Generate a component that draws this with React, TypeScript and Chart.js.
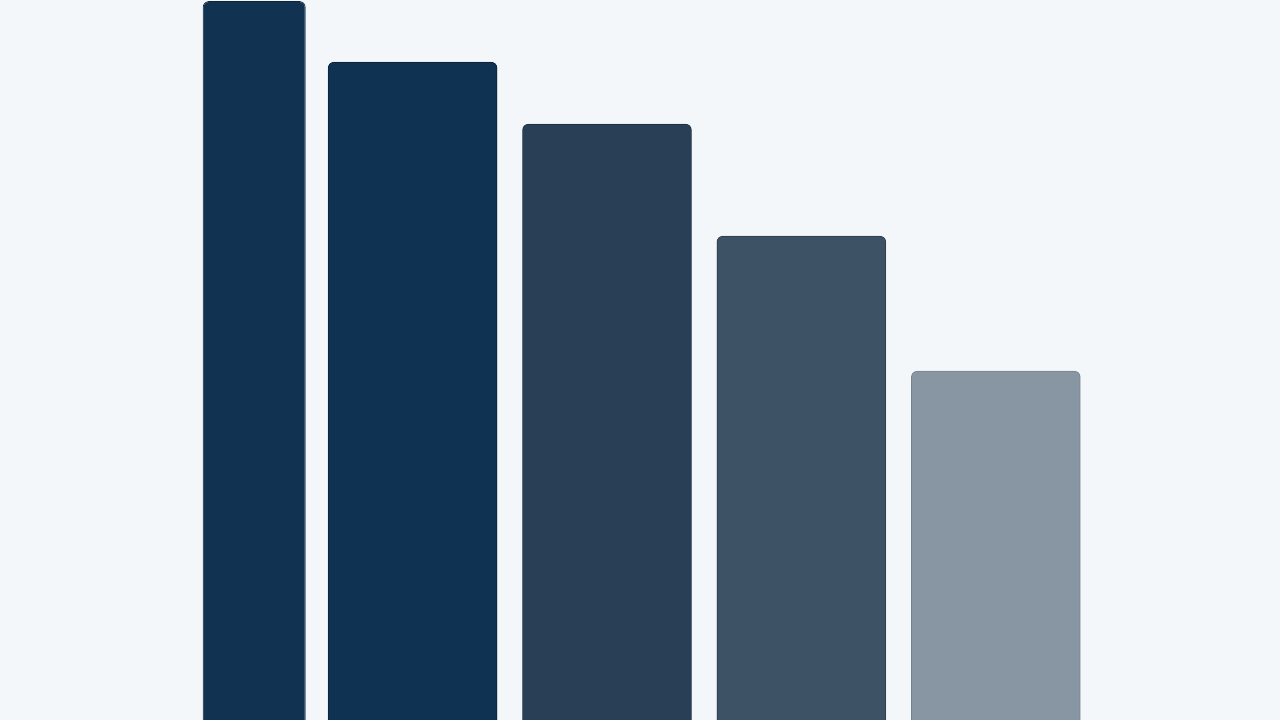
import { useEffect, useRef } from 'react';
import { Chart, registerables } from 'chart.js';

Chart.register(...registerables);

// five unlabeled bars, tallest first
const categories = ['A', 'B', 'C', 'D', 'E'];
const leadValue = [71.9, null, null, null, null];
const restValues = [0, 65.8, 59.6, 48.4, 34.9];
const barColors = ['#123252', '#103252', '#283f55', '#3e5265', '#8796a2'];
const borderColors = ['#0b233b', '#0b233b', '#1d2f40', '#2e3d4c', '#76848f'];

export default function App() {
  const canvasRef = useRef<HTMLCanvasElement>(null);
  const chartRef = useRef<Chart | null>(null);

  useEffect(() => {
    if (!canvasRef.current) return;
    if (chartRef.current) chartRef.current.destroy();

    const radius = { topLeft: 6, topRight: 6, bottomLeft: 0, bottomRight: 0 };

    chartRef.current = new Chart(canvasRef.current, {
      type: 'bar',
      data: {
        labels: categories,
        datasets: [
          {
            data: restValues,
            backgroundColor: barColors,
            borderColor: borderColors,
            borderWidth: 1,
            borderSkipped: 'bottom',
            borderRadius: radius,
            barThickness: 169,
          },
          {
            data: leadValue,
            backgroundColor: barColors[0],
            borderColor: borderColors[0],
            borderWidth: 1,
            borderSkipped: 'bottom',
            borderRadius: radius,
            categoryPercentage: 0.741,
            barPercentage: 1.43,
          },
        ],
      },
      options: {
        animation: false,
        responsive: true,
        maintainAspectRatio: false,
        skipNull: true,
        layout: { padding: { left: 121, right: 187, top: 0, bottom: 0 } },
        plugins: {
          legend: { display: false },
          tooltip: { enabled: false },
        },
        scales: {
          x: { display: false, grid: { display: false } },
          y: { display: false, min: 0, max: 72, grid: { display: false } },
        },
      } as any,
    });

    return () => {
      if (chartRef.current) {
        chartRef.current.destroy();
        chartRef.current = null;
      }
    };
  }, []);

  return (
    <div style={{ position: 'fixed', inset: 0, background: '#f4f7fa' }}>
      <canvas ref={canvasRef} />
    </div>
  );
}
